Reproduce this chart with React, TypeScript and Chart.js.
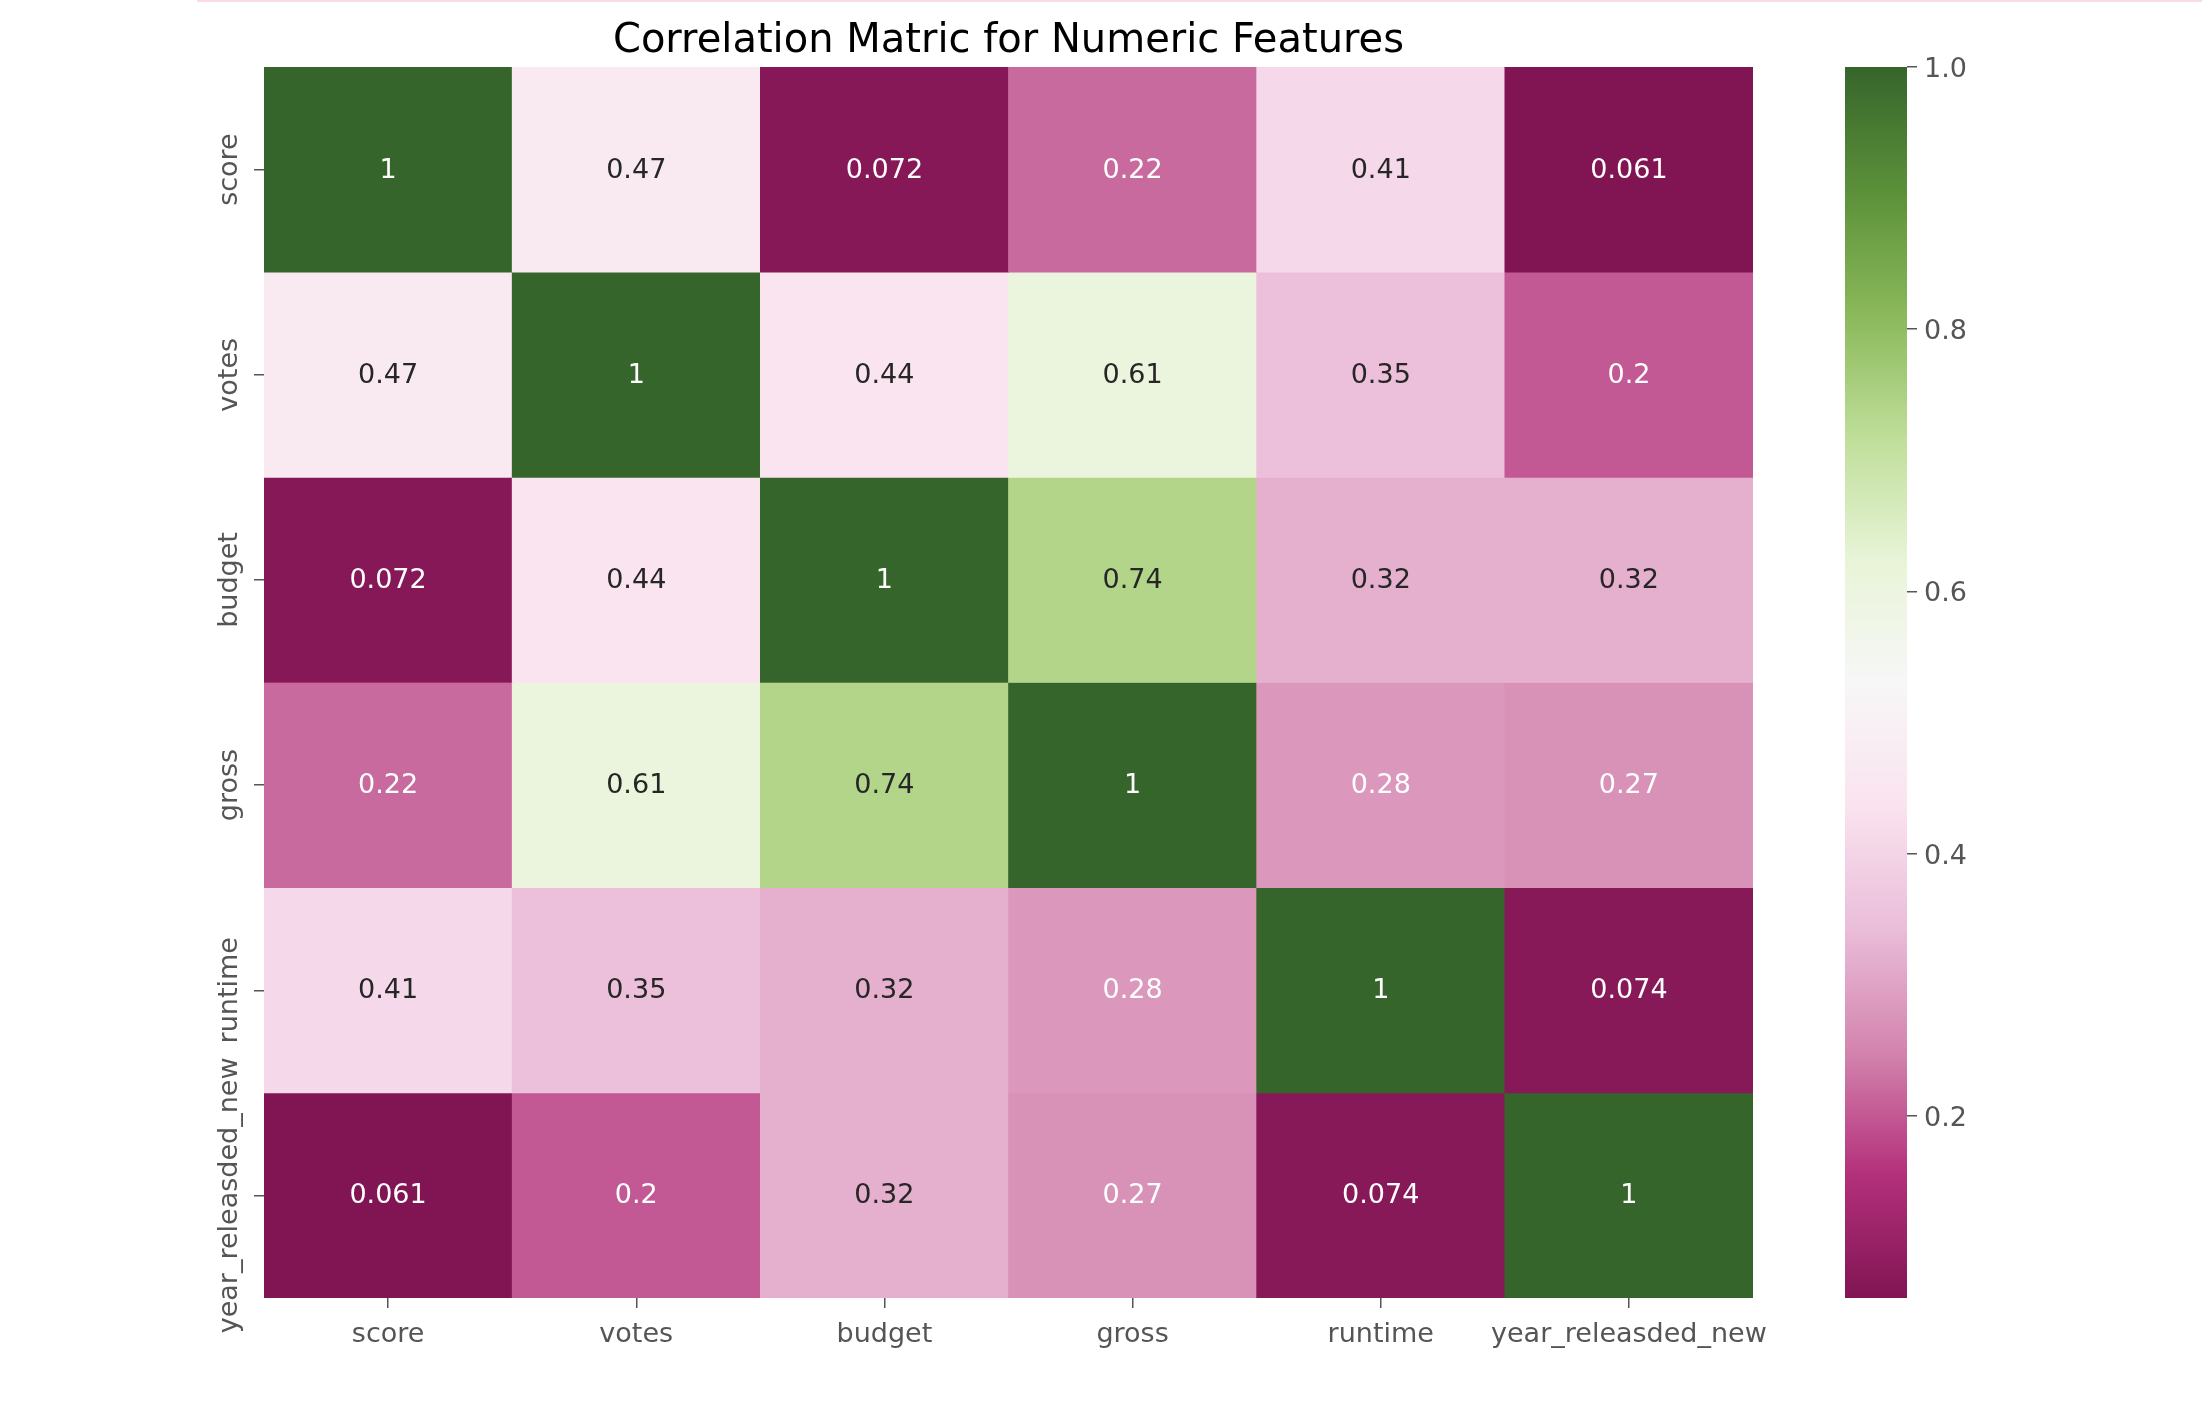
import React, { useEffect, useRef } from 'react';
import { Chart, registerables } from 'chart.js';

Chart.register(...registerables);

const TITLE = 'Correlation Matric for Numeric Features';
const labels = ['score', 'votes', 'budget', 'gross', 'runtime', 'year_releasded_new'];
const rowScore = [1, 0.47, 0.072, 0.22, 0.41, 0.061];
const rowVotes = [0.47, 1, 0.44, 0.61, 0.35, 0.2];
const rowBudget = [0.072, 0.44, 1, 0.74, 0.32, 0.32];
const rowGross = [0.22, 0.61, 0.74, 1, 0.28, 0.27];
const rowRuntime = [0.41, 0.35, 0.32, 0.28, 1, 0.074];
const rowYear = [0.061, 0.2, 0.32, 0.27, 0.074, 1];
const rows = [rowScore, rowVotes, rowBudget, rowGross, rowRuntime, rowYear];
const colorbarTicks = [0.2, 0.4, 0.6, 0.8, 1.0];

const PIYG = [
  '#8e0152', '#c51b7d', '#de77ae', '#f1b6da', '#fde0ef', '#f7f7f7',
  '#e6f5d0', '#b8e186', '#7fbc41', '#4d9221', '#276419',
];

const FONT = 'DejaVu Sans';
const TICK_COLOR = '#555555';

const vmin = Math.min(...rows.flat());
const vmax = Math.max(...rows.flat());

// slightly muted rendering of the PiYG stops, as in the reference picture
function hexToRgb(h: string) {
  const n = parseInt(h.slice(1), 16);
  const c = [(n >> 16) & 255, (n >> 8) & 255, n & 255];
  const lum = 0.299 * c[0] + 0.587 * c[1] + 0.114 * c[2];
  return c.map((x) => {
    const d = lum + (x - lum) * 0.8;
    return d + (255 - d) * 0.04;
  });
}
const STOPS = PIYG.map(hexToRgb);
const STOP_CSS = STOPS.map((c) => `rgb(${Math.round(c[0])},${Math.round(c[1])},${Math.round(c[2])})`);

function cmapRgb(v: number) {
  let t = (v - vmin) / (vmax - vmin);
  t = Math.max(0, Math.min(1, t));
  const p = t * (STOPS.length - 1);
  const i = Math.min(Math.floor(p), STOPS.length - 2);
  const f = p - i;
  const a = STOPS[i];
  const b = STOPS[i + 1];
  return [0, 1, 2].map((k) => a[k] + (b[k] - a[k]) * f);
}
function cmap(v: number) {
  const c = cmapRgb(v).map((x) => Math.round(x));
  return `rgb(${c[0]},${c[1]},${c[2]})`;
}
function textColorFor(v: number) {
  const c = cmapRgb(v).map((x) => {
    const s = x / 255;
    return s <= 0.03928 ? s / 12.92 : Math.pow((s + 0.055) / 1.055, 2.4);
  });
  const lum = 0.2126 * c[0] + 0.7152 * c[1] + 0.0722 * c[2];
  return lum < 0.408 ? '#ffffff' : '#262626';
}

const W = 2202;
const H = 1424;
const AREA = { left: 264, right: 1753, top: 67, bottom: 1298 };
const CB = { canvasLeft: 1800, left: 1845, right: 1907 };

const annotatePlugin = {
  id: 'annotate',
  afterDatasetsDraw(chart: any) {
    const ctx = chart.ctx;
    ctx.save();
    ctx.font = `27px "${FONT}"`;
    ctx.textAlign = 'center';
    ctx.textBaseline = 'middle';
    chart.data.datasets.forEach((_ds: any, r: number) => {
      const meta = chart.getDatasetMeta(r);
      meta.data.forEach((el: any, c: number) => {
        const v = rows[r][c];
        const p = el.getProps(['x', 'y', 'base'], true);
        ctx.fillStyle = textColorFor(v);
        ctx.fillText(String(v), p.x, (p.y + p.base) / 2 + 1);
      });
    });
    ctx.restore();
  },
  afterDraw(chart: any) {
    const ctx = chart.ctx;
    const area = chart.chartArea;
    const yScale = chart.scales.y;
    ctx.save();
    ctx.fillStyle = '#000000';
    ctx.font = `40px "${FONT}"`;
    ctx.textAlign = 'center';
    ctx.textBaseline = 'alphabetic';
    ctx.fillText(TITLE, (area.left + area.right) / 2, 52);
    ctx.fillStyle = TICK_COLOR;
    ctx.font = `27px "${FONT}"`;
    ctx.textBaseline = 'middle';
    labels.forEach((lab, i) => {
      const y = yScale.getPixelForValue(i + 0.5);
      ctx.save();
      ctx.translate(230, y);
      ctx.rotate(-Math.PI / 2);
      ctx.fillText(lab, 0, 0);
      ctx.restore();
    });
    ctx.restore();
  },
};

const cbLabelPlugin = {
  id: 'cbLabels',
  afterDraw(chart: any) {
    const ctx = chart.ctx;
    const yScale = chart.scales.y;
    ctx.save();
    ctx.fillStyle = TICK_COLOR;
    ctx.font = `27px "${FONT}"`;
    ctx.textAlign = 'left';
    ctx.textBaseline = 'middle';
    colorbarTicks.forEach((t) => {
      ctx.fillText(t.toFixed(1), chart.chartArea.right + 17, yScale.getPixelForValue(t) + 3);
    });
    ctx.restore();
  },
};

export default function App() {
  const heatRef = useRef<HTMLCanvasElement | null>(null);
  const cbRef = useRef<HTMLCanvasElement | null>(null);

  useEffect(() => {
    if (!heatRef.current || !cbRef.current) return;
    const heat = new Chart(heatRef.current, {
      type: 'bar',
      data: {
        labels,
        datasets: rows.map((row, r) => ({
          label: labels[r],
          data: row.map(() => [r, r + 1]),
          backgroundColor: row.map((v) => cmap(v)),
          borderWidth: 0,
          grouped: false,
          categoryPercentage: 1,
          barPercentage: 1,
        })),
      } as any,
      options: {
        animation: false,
        responsive: false,
        maintainAspectRatio: false,
        devicePixelRatio: 1,
        layout: {
          padding: { left: AREA.left - 60, top: AREA.top, right: W - AREA.right, bottom: H - AREA.bottom - 100 },
        },
        plugins: { legend: { display: false }, tooltip: { enabled: false }, title: { display: false } },
        scales: {
          x: {
            type: 'category',
            offset: true,
            grid: { offset: false, drawOnChartArea: false, drawTicks: true, tickLength: 10, color: TICK_COLOR, lineWidth: 1.5 },
            border: { display: false },
            ticks: { color: TICK_COLOR, font: { family: FONT, size: 27 }, padding: 11, maxRotation: 0, minRotation: 0, autoSkip: false },
            afterFit: (s: any) => { s.height = 100; },
          },
          y: {
            type: 'linear',
            min: 0,
            max: 6,
            reverse: true,
            afterBuildTicks: (axis: any) => { axis.ticks = labels.map((_l, i) => ({ value: i + 0.5 })); },
            ticks: { display: false },
            grid: { drawOnChartArea: false, drawTicks: true, tickLength: 10, color: TICK_COLOR, lineWidth: 1.5 },
            border: { display: false },
            afterFit: (s: any) => { s.width = 60; },
          },
        },
      } as any,
      plugins: [annotatePlugin],
    });

    const cbWidth = CB.right - CB.left;
    const cb = new Chart(cbRef.current, {
      type: 'bar',
      data: {
        labels: ['colorbar'],
        datasets: [
          {
            data: [[vmin, vmax]],
            backgroundColor: (context: any) => {
              const chart = context.chart;
              const area = chart.chartArea;
              if (!area) return STOP_CSS[5];
              const g = chart.ctx.createLinearGradient(0, area.bottom, 0, area.top);
              STOP_CSS.forEach((c, i) => g.addColorStop(i / (STOP_CSS.length - 1), c));
              return g;
            },
            borderWidth: 0,
            categoryPercentage: 1,
            barPercentage: 1,
          },
        ],
      } as any,
      options: {
        animation: false,
        responsive: false,
        maintainAspectRatio: false,
        devicePixelRatio: 1,
        layout: {
          padding: { left: CB.left - CB.canvasLeft, top: AREA.top, bottom: H - AREA.bottom, right: W - CB.canvasLeft - (CB.left - CB.canvasLeft) - cbWidth - 100 },
        },
        plugins: { legend: { display: false }, tooltip: { enabled: false } },
        scales: {
          x: { display: false },
          y: {
            type: 'linear',
            position: 'right',
            min: vmin,
            max: vmax,
            afterBuildTicks: (axis: any) => { axis.ticks = colorbarTicks.map((value) => ({ value })); },
            ticks: { display: false },
            grid: { drawOnChartArea: false, drawTicks: true, tickLength: 10, color: TICK_COLOR, lineWidth: 1.5 },
            border: { display: false },
            afterFit: (s: any) => { s.width = 100; },
          },
        },
      } as any,
      plugins: [cbLabelPlugin],
    });

    return () => {
      heat.destroy();
      cb.destroy();
    };
  }, []);

  return (
    <div style={{ position: 'absolute', left: 0, top: 0, width: W, height: H, background: '#ffffff', overflow: 'hidden' }}>
      <div style={{ position: 'absolute', left: 197, top: 0, width: W - 197, height: 2, background: '#fadbe3' }} />
      <canvas ref={heatRef} width={W} height={H} style={{ position: 'absolute', left: 0, top: 0, width: W, height: H }} />
      <canvas
        ref={cbRef}
        width={W - CB.canvasLeft}
        height={H}
        style={{ position: 'absolute', left: CB.canvasLeft, top: 0, width: W - CB.canvasLeft, height: H }}
      />
    </div>
  );
}
